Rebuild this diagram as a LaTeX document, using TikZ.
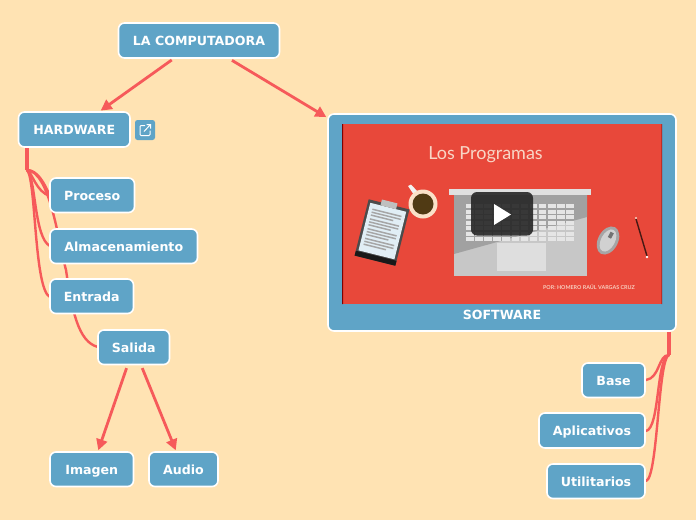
\documentclass[tikz,border=0pt]{standalone}
\usepackage{fontspec}
\setmainfont{DejaVu Sans}
\newfontfamily\thumbfont{Lato}
\usetikzlibrary{arrows.meta}
\definecolor{bgc}{HTML}{FFE3B3}
\definecolor{boxc}{HTML}{5FA4C7}
\definecolor{linec}{HTML}{F65A5A}
\definecolor{thumbred}{HTML}{E8483A}
\definecolor{ttlc}{RGB}{248,214,198}
\definecolor{capc}{RGB}{248,205,190}
\definecolor{cupc}{RGB}{250,225,200}
\definecolor{coffeec}{RGB}{80,58,20}
\definecolor{paperc}{RGB}{225,238,245}
\definecolor{pencilc}{RGB}{70,25,20}
\tikzset{
  x=1pt,y=-1pt,
  topic/.style={draw=white,line width=1.6pt,fill=boxc,rounded corners=6pt,text=white,
    font=\fontsize{12.6}{14}\selectfont\bfseries,inner sep=0pt,anchor=center,text height=10pt,text depth=0pt},
  arrowline/.style={draw=linec,line width=2.8pt,-{Triangle[length=11pt,width=11pt]},shorten <=3pt,shorten >=1pt},
  branch/.style={draw=linec,line width=2.4pt,line cap=round},
  trunk/.style={draw=linec,line width=3.4pt},
}
\newcommand{\topicnode}[6]{% name,x0,y0,x1,y1,text
  \node[topic,minimum width=#4pt-#2pt,minimum height=#5pt-#3pt] (#1)
    at ({(#2+#4)/2},{(#3+#5)/2}) {#6};
}
\begin{document}
\begin{tikzpicture}
\useasboundingbox (0,0) rectangle (696,520);
\fill[bgc] (0,0) rectangle (696,520);
% anchors of the curved branches
\coordinate (hwfork) at (27,170);
\coordinate (swfork) at (669,355);
% curved branches sit under the boxes
\draw[trunk] (27,148) -- (hwfork);
\draw[branch] (hwfork) .. controls (37,170) and (44,182) .. (50,196);
\draw[branch] (hwfork) .. controls (32,172) and (36,192) .. (50,196);
\draw[branch] (hwfork) .. controls (36,178) and (34,238) .. (50,246);
\draw[branch] (hwfork) .. controls (36,178) and (34,290) .. (50,297);
\draw[branch] (hwfork) .. controls (50,172) and (58,240) .. (66,270)
   .. controls (72,310) and (78,342) .. (98,347);
\draw[trunk] (669,332) -- (swfork);
\draw[branch] (swfork) .. controls (658,355) and (660,378) .. (646,380);
\draw[branch] (swfork) .. controls (656,358) and (660,428) .. (646,431);
\draw[branch] (swfork) .. controls (658,358) and (658,478) .. (646,481);
% nodes
\topicnode{top}{118.5}{23}{279.5}{58}{LA COMPUTADORA}
\topicnode{hw}{18.5}{112}{130}{147}{HARDWARE}
\topicnode{proc}{50}{178}{134.5}{212.5}{Proceso}
\topicnode{alm}{50}{229}{197.5}{263.5}{Almacenamiento}
\topicnode{ent}{50}{279}{133.5}{313.5}{Entrada}
\topicnode{sal}{98}{330}{169.5}{364.5}{Salida}
\topicnode{ima}{50}{452}{133.5}{486.5}{Imagen}
\topicnode{aud}{149}{452}{218}{486.5}{Audio}
\topicnode{bas}{582}{363}{645}{397.5}{Base}
\topicnode{apl}{539}{413}{645}{448}{Aplicativos}
\topicnode{uti}{547}{464}{645}{498.5}{Utilitarios}
\topicnode{sw}{328}{114}{676}{331}{}
\node[text=white,font=\fontsize{12.6}{14}\selectfont\bfseries,text height=10pt,text depth=0pt,inner sep=0pt] (swlabel) at (502,314) {SOFTWARE};
% link icon
\node[fill=boxc,rounded corners=2.5pt,minimum size=20pt,inner sep=0pt] (link) at (145,130) {};
\draw[white,line width=1pt,rounded corners=1pt] (145,125.5) -- (140,125.5) -- (140,135.5) -- (150,135.5) -- (150,130.5);
\draw[white,line width=1pt] (144,131.5) -- (150.5,124.5) (146.5,124.5) -- (150.5,124.5) -- (150.5,128.5);
% straight connectors
\draw[arrowline,shorten <=2pt] (top) -- (hw);
\draw[arrowline] (top) -- (sw);
\draw[arrowline] (sal) -- (ima);
\draw[arrowline] (sal) -- (aud);
% thumbnail
\fill[thumbred] (342,124) rectangle (662,304);
\fill[black!50!red] (342,124) rectangle (343,304) (661.5,124) rectangle (662,304);
\node[text=ttlc,font=\thumbfont\fontsize{18}{20}\selectfont] (ttl) at (485.5,155) {Los Programas};
\node[text=capc,font=\thumbfont\bfseries\fontsize{5.4}{6}\selectfont] (cap) at (589,287) {POR: HOMERO RAÚL VARGAS CRUZ};
% laptop
\fill[black!22] (454,195) rectangle (587,276);
\fill[black!37] (454,195) -- (587,195) -- (587,217) -- (454,254) -- cycle;
\fill[black!12] (449,188.5) rectangle (591,195);
\fill[black!13] (497,243) rectangle (546,271);
\foreach \r in {0,...,6}{\foreach \c in {0,...,11}{
  \fill[black!10] ({466+\c*9.1},{204+\r*5.5}) rectangle +(7.6,4.2);
}}
% play button
\fill[black!85,opacity=.9,rounded corners=6pt] (471,192) rectangle (533,235.5);
\fill[white] (494,204) -- (511,214.5) -- (494,225) -- cycle;
% cup
\fill[black!5] (408,186) -- (411,184.5) -- (418,192) -- (414,195) -- cycle;
\fill[cupc] (423,204) circle (14.5);
\fill[coffeec] (423,204) circle (10.5);
% clipboard
\begin{scope}[shift={(382,232.5)},rotate=-14]
\fill[black!70] (-21,-29) rectangle (21,29);
\fill[black!90] (-21,24) rectangle (21,29);
\fill[paperc] (-18.5,-26) rectangle (18.5,23);
\fill[black!25] (-8,-32) rectangle (8,-26);
\foreach \yy in {-21,-11,-1,9}{
  \fill[black!35] (-15,\yy) rectangle (15,\yy+1.5);
  \fill[black!35] (-15,\yy+3) rectangle (15,\yy+4.5);
  \fill[black!35] (-15,\yy+6) rectangle (8,\yy+7.5);
}
\end{scope}
% mouse
\begin{scope}[shift={(608,240.5)},rotate=-28]
\fill[black!35] (0,0) ellipse (10 and 15);
\fill[black!18] (0,0) ellipse (7 and 12);
\fill[black!55] (-1.8,-9) rectangle (1.8,-3);
\end{scope}
% pencil
\draw[pencilc,line width=1.4pt] (636,219) -- (647,256);
\fill[white] (647,257) circle (1.3);
\fill[ttlc] (636,218) circle (1.2);
\end{tikzpicture}
\end{document}
